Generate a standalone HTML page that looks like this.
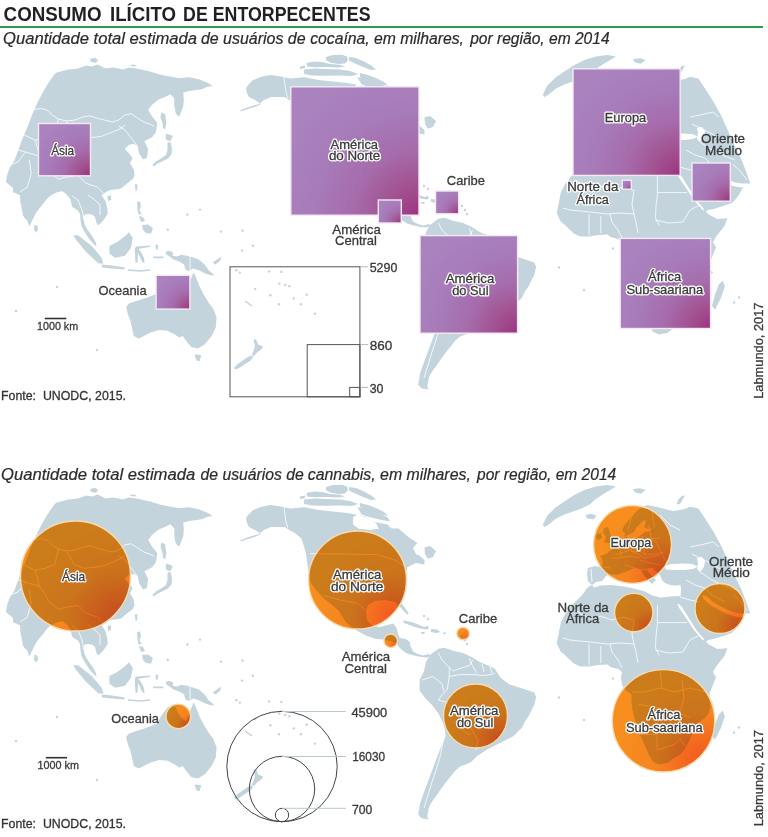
<!DOCTYPE html>
<html><head><meta charset="utf-8"><style>
html,body{margin:0;padding:0;background:#fff;width:768px;height:837px;overflow:hidden}
svg{position:absolute;left:0;top:0;display:block}
text{font-family:"Liberation Sans",sans-serif;white-space:pre}
.halo{stroke:#fff;stroke-width:3px;stroke-linejoin:round}
.mul{mix-blend-mode:multiply}
</style></head><body>
<div style="position:absolute;left:0;top:25.9px;width:762.7px;height:2.1px;background:#2e9b4f"></div>
<svg width="768" height="837" viewBox="0 0 768 837">
<defs>
<radialGradient id="pg" cx="1" cy="1" r="1.15" fx="1" fy="1">
<stop offset="0" stop-color="#9c3482"/><stop offset="0.2" stop-color="#a2508f"/><stop offset="0.45" stop-color="#a66cac"/><stop offset="0.72" stop-color="#a77bb9"/><stop offset="1" stop-color="#a982be"/>
</radialGradient>
<radialGradient id="og" cx="0.9" cy="0.9" r="0.85" fx="0.9" fy="0.9">
<stop offset="0" stop-color="#f25520"/><stop offset="0.25" stop-color="#f46a20"/><stop offset="0.55" stop-color="#f6841f"/><stop offset="1" stop-color="#f78e1e"/>
</radialGradient>
<g id="map"><g fill="#c3d4dd"><polygon points="54.5,74.3 56.6,72.5 58.6,71.9 68.4,69.5 78.0,68.6 86.0,65.6 91.8,66.6 97.7,64.6 105.5,68.6 113.3,67.6 123.0,69.5 128.9,67.6 136.7,68.6 150.0,71.5 159.8,74.4 169.5,76.4 179.3,78.3 189.0,77.3 198.8,79.3 208.6,83.2 212.5,86.1 206.6,87.1 202.7,89.0 196.9,90.0 189.0,91.0 183.3,92.4 183.8,100.0 183.3,106.0 181.0,112.0 179.4,116.5 177.0,115.0 175.5,112.5 174.2,104.7 174.2,98.2 170.3,94.3 165.1,96.9 158.6,99.5 152.1,104.7 148.2,110.0 152.1,116.5 157.3,123.0 156.0,132.0 152.1,137.3 146.9,140.0 144.3,141.2 148.2,149.0 146.9,158.1 143.0,159.4 139.0,152.9 137.8,146.4 133.9,143.8 128.6,145.1 124.7,149.0 128.6,152.9 132.6,158.1 130.0,163.3 133.9,169.8 134.5,175.6 132.8,179.0 127.0,183.4 121.0,188.5 117.2,189.3 110.0,190.0 107.4,191.2 103.0,194.0 101.6,195.0 104.0,199.0 105.5,201.0 107.4,208.8 107.7,214.0 104.0,219.5 100.0,224.0 97.9,225.2 96.5,223.0 95.0,217.0 92.0,214.5 88.0,214.0 84.5,214.5 83.5,218.0 84.5,224.0 87.0,229.0 89.5,232.5 93.0,237.5 96.0,243.0 96.5,246.5 93.5,244.0 90.0,240.0 86.5,235.0 83.5,230.0 81.5,226.0 80.5,220.0 80.0,214.0 78.1,210.8 74.0,208.0 72.3,206.9 71.0,202.0 70.3,199.0 66.4,194.2 62.5,191.2 58.0,192.0 54.7,193.2 50.0,196.0 46.9,199.0 43.0,204.0 39.0,208.8 36.0,213.0 33.2,218.6 29.3,226.4 27.0,220.0 24.5,218.0 22.8,215.0 21.5,207.3 20.2,201.5 20.2,195.6 16.3,193.6 13.0,192.3 13.0,187.8 9.8,185.2 5.9,182.0 7.2,174.8 9.8,167.6 14.4,160.4 18.7,149.0 23.0,137.5 27.3,127.4 31.6,116.0 35.9,105.9 41.6,94.4 47.4,84.4"/>
<polygon points="34.5,224.5 37.5,226.0 38.0,230.0 36.0,232.3 34.0,230.0"/>
<polygon points="73.2,235.2 78.1,235.2 91.8,245.9 101.6,257.7 103.5,263.5 98.6,263.5 85.9,251.8 76.2,240.1"/>
<polygon points="101.6,264.5 112.0,265.5 125.0,267.5 124.0,269.5 112.0,268.5 102.0,267.5"/>
<polygon points="109.4,245.9 117.2,242.0 125.0,236.2 128.9,232.3 132.8,238.1 130.9,247.9 125.0,255.7 115.2,257.7 109.4,253.8"/>
<polygon points="136.0,246.5 143.0,246.0 150.0,245.5 150.0,247.0 143.0,248.0 138.5,249.0 141.0,252.0 144.0,258.0 144.5,262.8 142.5,262.5 139.5,256.0 138.0,253.0 137.5,262.8 135.5,262.5 135.0,255.0 134.8,249.0"/>
<polygon points="137.0,202.0 140.0,201.5 141.0,206.0 139.5,210.0 141.5,214.0 138.5,214.5 137.5,209.0"/>
<polygon points="142.0,225.0 148.0,224.6 152.9,228.0 151.0,233.7 146.0,233.0 143.0,230.0"/>
<polygon points="139.0,216.0 143.0,217.0 145.0,221.0 141.0,222.0"/>
<polygon points="135.0,184.0 137.5,184.5 137.0,190.5 135.5,191.0"/>
<polygon points="107.5,196.0 111.0,195.5 111.0,200.0 108.0,201.0"/>
<polygon points="167.5,142.5 170.5,142.0 172.0,148.0 171.6,154.2 168.0,158.5 162.0,161.5 157.0,164.0 153.5,166.5 152.5,164.5 156.0,161.5 161.0,158.5 166.0,155.0 167.5,150.0"/>
<polygon points="166.4,133.4 172.9,136.0 170.3,141.2 166.4,139.9 165.5,136.0"/>
<polygon points="161.2,112.5 165.1,113.9 166.4,123.0 165.1,129.5 163.0,128.0 162.5,123.0 160.5,117.0"/>
<polygon points="165.6,251.8 169.5,250.8 173.4,252.7 172.5,255.7 177.3,256.6 181.2,254.7 187.1,255.7 193.0,257.6 198.8,259.6 204.7,264.5 208.6,270.3 214.5,275.2 210.5,275.2 204.7,273.2 198.8,270.3 193.0,268.4 189.0,271.3 185.2,269.3 184.2,264.5 179.3,261.5 173.4,259.6 169.5,256.6 166.6,254.7"/>
<polygon points="212.5,262.5 218.4,258.6 221.3,256.6 220.3,260.5 215.4,264.5"/>
<polygon points="155.6,244.6 158.3,245.0 157.5,250.0 155.8,249.5"/>
<polygon points="153.0,256.5 163.8,256.5 163.0,258.3 153.5,258.3"/>
<polygon points="90.0,59.0 95.0,57.8 98.0,60.0 96.0,62.7 91.0,62.0"/>
<polygon points="129.0,65.0 134.0,64.6 137.0,66.0 133.0,66.6"/>
<polygon points="126.1,307.1 127.8,313.9 130.3,320.6 132.0,327.4 133.7,335.9 138.8,338.4 143.9,335.9 150.6,332.5 159.1,329.9 167.5,330.8 174.3,334.2 179.4,337.5 182.8,335.9 186.2,340.9 191.2,346.9 198.0,348.5 204.8,344.3 211.6,335.9 215.8,327.4 216.6,317.2 213.2,308.8 208.2,302.0 203.1,293.5 199.7,286.8 197.0,280.0 194.5,274.0 193.5,272.5 192.0,276.0 190.5,280.0 188.5,286.0 186.0,291.0 183.0,289.5 180.0,286.0 177.5,282.0 176.0,277.5 172.0,275.5 168.0,277.0 164.0,282.0 160.0,288.0 156.5,293.7 147.4,297.4 136.5,301.0 129.0,303.5"/>
<polygon points="194.6,354.5 201.4,355.0 199.5,361.2 196.5,360.5"/>
<polygon points="254.5,338.5 257.0,341.0 258.0,344.5 263.0,346.5 262.0,349.0 257.5,352.0 254.0,356.0 251.5,355.0 254.0,350.0 255.0,345.0 253.5,341.0"/>
<polygon points="251.0,355.5 253.5,357.0 250.0,361.0 245.0,364.0 240.0,367.5 236.0,369.5 234.0,368.0 237.0,364.5 242.0,361.0 247.0,357.5"/>
<polygon points="247.0,93.0 246.0,88.0 249.0,84.0 253.0,80.0 260.8,77.1 267.2,75.4 271.2,75.0 283.8,77.1 290.0,78.6 304.3,77.2 318.6,80.0 333.0,81.5 347.3,83.0 355.9,84.4 365.0,86.5 373.3,91.7 387.4,94.4 391.5,98.6 398.6,98.6 408.7,107.2 417.3,113.0 423.0,117.3 418.0,121.0 420.0,126.0 424.5,130.0 424.5,134.5 415.9,133.0 407.3,137.3 405.8,144.5 405.8,158.9 403.0,167.5 401.5,173.2 405.8,179.0 408.7,183.2 407.3,184.7 404.4,181.8 400.0,177.0 395.0,172.0 385.0,170.0 375.0,171.0 368.0,175.0 366.0,182.0 367.0,190.0 372.0,196.0 380.0,197.0 387.2,195.0 393.4,193.4 396.6,198.0 398.0,204.0 400.0,208.0 405.0,208.8 409.5,211.5 410.5,216.0 413.0,221.5 418.0,224.0 423.0,225.5 429.4,224.0 430.0,226.5 426.0,227.5 420.0,226.8 414.0,225.5 407.0,223.5 402.5,220.5 399.0,217.0 396.0,213.0 390.0,211.0 384.0,209.5 376.0,209.0 367.0,206.0 357.5,201.0 350.0,196.0 345.0,191.0 339.0,181.0 331.0,174.0 324.5,169.0 316.0,160.3 311.0,153.0 309.0,145.0 307.5,135.0 305.9,123.0 303.5,115.0 301.6,108.8 296.2,104.0 290.0,100.5 284.8,97.0 271.0,97.0 264.0,100.0 259.0,104.0 252.0,106.0 246.0,108.0 240.0,110.5 241.0,111.5 248.0,109.0 256.0,106.5 261.0,104.0 255.0,100.0 249.0,97.0"/>
<polygon points="424.5,117.3 430.0,116.0 436.0,121.0 433.0,127.0 428.0,128.7 425.0,124.0"/>
<polygon points="326.0,57.0 333.0,55.0 342.0,54.8 347.0,56.5 348.0,60.0 345.0,63.5 338.0,64.0 330.0,62.5 326.0,60.0"/>
<polygon points="349.0,57.0 356.0,58.0 364.0,61.5 372.0,66.0 376.0,69.5 371.0,70.0 362.0,66.5 354.0,63.0 349.0,60.5"/>
<polygon points="306.5,63.0 314.0,61.5 322.0,62.0 330.0,64.0 340.0,64.8 345.0,66.5 338.0,67.5 325.0,67.0 314.0,67.3 307.0,66.5"/>
<polygon points="304.0,69.5 315.0,68.5 328.0,69.0 340.0,69.5 350.0,71.0 358.0,74.0 352.0,76.0 340.0,75.5 326.0,75.8 312.0,75.5 304.0,74.0"/>
<polygon points="360.0,73.0 368.0,75.0 376.0,78.0 384.0,82.0 388.0,85.8 378.0,84.0 368.0,80.0 360.0,77.0"/>
<polygon points="300.0,66.5 305.0,65.5 305.0,68.0 300.0,69.0"/>
<polygon points="357.3,77.2 370.2,78.6 378.8,83.0 387.4,87.2 390.3,91.5 381.7,90.1 370.2,87.2 361.6,84.4"/>
<polygon points="542.9,94.4 547.2,85.8 555.8,77.2 564.4,71.5 573.0,65.8 584.4,60.0 595.9,56.4 607.3,55.0 616.0,56.4 610.2,60.0 603.0,64.3 594.5,70.0 590.2,74.3 581.6,78.6 573.0,81.5 564.4,84.4 555.8,88.7 548.6,94.4 544.3,97.3"/>
<polygon points="585.5,85.0 591.0,83.7 596.5,85.5 594.0,89.2 587.0,88.5"/>
<polygon points="633.0,59.0 640.0,58.2 645.7,60.0 641.0,63.7 635.0,62.5"/>
<polygon points="676.7,74.6 678.0,70.0 682.0,66.0 685.0,65.5 683.0,69.0 680.0,74.0"/>
<polygon points="604.0,98.0 608.0,97.0 610.0,103.0 612.0,108.0 613.0,112.0 608.0,113.0 604.0,112.0 606.0,107.0 603.0,103.0"/>
<polygon points="597.0,104.0 601.0,103.0 602.0,108.0 598.0,110.0 596.0,107.0"/>
<polygon points="592.0,155.0 588.0,151.0 587.0,144.0 588.0,138.0 595.0,136.0 600.0,137.0 603.0,134.0 602.0,129.0 600.0,126.0 606.0,124.0 610.0,121.0 614.0,118.0 618.0,114.0 622.0,112.0 624.0,108.0 625.0,103.0 622.0,101.0 624.0,96.0 628.0,91.0 632.0,86.0 637.0,81.0 642.0,77.0 648.0,75.0 649.3,75.5 658.4,77.3 665.7,79.2 673.0,81.0 684.0,79.2 690.0,76.7 698.4,78.4 705.0,88.4 713.5,101.8 721.8,116.9 728.5,132.0 735.2,147.0 741.9,160.4 746.9,173.8 750.3,183.8 744.0,187.0 742.0,189.0 739.0,195.0 734.0,201.0 731.7,203.1 723.1,206.0 714.5,208.8 707.3,210.3 706.0,212.0 708.8,214.6 717.4,218.9 727.4,218.2 724.5,226.0 717.4,234.7 713.0,242.0 716.0,247.2 713.2,254.3 710.3,261.5 708.9,268.6 710.3,275.8 708.9,283.0 705.0,288.0 701.7,290.0 696.0,294.4 693.0,301.6 690.2,308.8 686.0,317.4 680.2,324.5 673.0,328.8 667.3,333.1 658.7,334.6 653.0,331.7 648.7,324.5 644.4,314.5 640.0,304.5 636.5,294.4 633.0,283.0 631.5,273.0 631.5,264.4 627.0,261.0 623.8,258.3 622.0,254.6 621.0,247.3 622.0,241.9 618.3,239.1 611.0,237.3 607.3,234.6 598.2,235.0 589.1,236.4 580.0,236.4 574.0,233.5 569.0,229.0 565.0,225.0 560.8,221.7 556.7,213.3 558.8,203.0 560.8,192.5 565.0,184.2 573.3,173.8 581.7,165.4 588.0,157.0"/>
<polygon points="612.0,247.5 614.0,247.5 614.0,249.5 612.0,249.5"/>
<polygon points="722.8,280.5 724.8,286.4 720.9,298.0 715.0,309.8 712.0,306.0 715.0,294.2 718.9,284.5"/>
<polygon points="430.0,225.0 438.3,218.8 444.6,217.7 452.9,220.8 463.3,222.9 471.7,227.0 480.0,232.3 488.3,235.4 494.6,238.5 500.8,247.9 509.2,254.2 521.7,258.3 534.2,262.5 536.2,266.7 534.2,275.0 527.9,287.5 525.8,290.0 521.7,297.9 518.5,300.9 513.3,306.2 509.4,308.2 498.4,313.7 487.5,319.2 476.6,326.5 471.1,332.0 467.0,334.0 460.0,336.4 455.0,341.0 451.0,346.0 445.6,352.8 441.0,359.0 436.5,365.6 432.5,371.0 429.2,376.5 428.0,382.0 427.3,387.5 429.2,389.3 421.9,388.4 418.2,384.8 420.0,373.9 423.7,362.9 429.2,348.3 434.6,333.8 440.1,319.2 442.0,315.0 445.6,306.0 445.0,300.0 442.5,291.7 438.3,283.3 432.0,275.0 425.8,268.8 419.6,260.4 419.6,250.0 423.8,241.7 426.0,232.0"/>
<polygon points="403.0,190.3 413.8,192.7 423.0,196.6 429.4,198.0 427.0,199.5 420.0,198.5 412.0,196.0 404.0,193.0"/>
<polygon points="431.0,199.0 437.0,199.5 440.2,201.9 436.0,203.0 431.0,202.0"/>
<polygon points="421.0,202.0 425.0,202.0 424.0,204.0 421.0,203.5"/>
<polygon points="443.0,202.5 446.0,202.5 446.0,204.0 443.0,204.0"/><circle cx="187.4" cy="214.5" r="1.2"/><circle cx="200" cy="209.6" r="1.2"/><circle cx="167.8" cy="229.7" r="1.2"/><circle cx="221" cy="231.6" r="1.2"/><circle cx="242.5" cy="230.5" r="1.2"/><circle cx="252.8" cy="245.7" r="1.2"/><circle cx="242" cy="250.6" r="1.2"/><circle cx="236.4" cy="270.2" r="1.2"/><circle cx="239.9" cy="272.6" r="1.2"/><circle cx="269.2" cy="271.4" r="1.2"/><circle cx="281.4" cy="271.9" r="1.2"/><circle cx="255.2" cy="289" r="1.2"/><circle cx="279.3" cy="283.6" r="1.2"/><circle cx="285.2" cy="285" r="1.2"/><circle cx="289.4" cy="286.2" r="1.2"/><circle cx="270.4" cy="295.3" r="1.2"/><circle cx="293.8" cy="298.4" r="1.2"/><circle cx="306.7" cy="294.8" r="1.2"/><circle cx="300.9" cy="304.2" r="1.2"/><circle cx="279" cy="304.2" r="1.2"/><circle cx="314.9" cy="313.6" r="1.2"/><circle cx="559" cy="267.5" r="1.2"/><circle cx="584" cy="290" r="1.2"/><circle cx="711.5" cy="272.5" r="1.2"/><circle cx="734" cy="302.5" r="1.2"/><circle cx="739" cy="297.5" r="1.2"/><circle cx="427" cy="197" r="1.2"/><circle cx="424" cy="186" r="1.2"/><circle cx="428" cy="189" r="1.2"/><circle cx="462" cy="206" r="1.2"/><circle cx="465" cy="210" r="1.2"/><circle cx="467" cy="214" r="1.2"/><circle cx="57" cy="287" r="1.2"/><circle cx="16" cy="311" r="1.2"/><circle cx="97" cy="350" r="1.2"/></g><g fill="none" stroke="#c3d4dd" stroke-width="1.5"><polyline points="245.0,301.0 252.0,306.0"/><polyline points="150.0,270.0 140.0,271.0 128.0,270.0"/></g><g fill="#fff"><polygon points="353.0,87.2 357.3,84.4 365.9,87.2 376.0,93.0 378.8,98.7 370.2,100.0 358.7,98.7 353.0,94.4"/>
<polygon points="417.3,113.0 423.0,117.3 418.0,121.0 420.0,126.0 416.0,124.0 413.0,118.0"/>
<polygon points="626.0,106.0 630.0,104.0 634.0,102.0 636.0,98.0 640.0,94.0 644.0,90.0 646.0,92.0 644.0,97.0 648.0,99.0 652.0,98.0 650.0,101.0 645.0,102.0 641.0,105.0 637.0,108.0 632.0,109.0 628.0,108.0"/>
<polygon points="592.0,155.0 596.0,152.0 602.0,151.0 606.0,146.0 610.0,144.0 616.0,145.0 622.0,143.0 628.0,141.0 634.0,138.0 640.0,139.0 643.0,144.0 648.0,150.0 652.0,154.0 656.0,150.0 651.0,145.0 647.0,140.0 650.0,138.0 656.0,141.0 660.0,145.0 662.0,150.0 665.0,153.0 670.0,155.0 675.0,155.5 680.5,155.0 681.0,160.0 680.5,166.0 670.0,166.5 660.8,167.5 652.5,165.4 644.2,161.2 631.7,158.0 623.3,156.5 611.0,155.0 601.0,155.5 594.2,157.5"/>
<polygon points="664.0,136.0 672.0,134.0 682.0,133.5 692.0,134.0 698.0,136.5 693.0,139.0 684.0,140.0 674.0,140.0 666.0,139.5"/>
<polygon points="697.0,128.0 702.0,127.0 705.0,131.0 704.0,137.0 700.0,142.0 697.0,139.0 698.0,133.0"/>
<polygon points="679.0,174.0 682.0,177.0 690.0,190.0 697.0,201.0 703.0,207.4 704.5,211.0 701.5,209.0 694.0,200.0 686.0,188.0 678.5,177.0 677.5,174.0"/>
<polygon points="702.0,165.0 706.0,166.0 713.0,172.0 720.0,176.0 728.0,180.0 735.0,182.5 742.0,183.5 753.0,183.5 754.0,187.5 742.0,187.5 735.0,186.5 727.0,184.0 719.0,180.0 711.0,175.5 704.0,169.5"/></g><g fill="none" stroke="#fff" stroke-width="0.8" stroke-linejoin="round"><polyline points="33.3,109.6 41.7,108.5 47.9,110.6 52.0,114.8 58.3,119.0 66.7,121.0 75.0,120.0 83.3,116.9 89.6,115.8 95.8,117.9 104.2,120.0 112.5,122.0 118.8,120.0 125.0,114.8 131.2,113.8 137.5,117.9 143.8,122.0 150.0,124.2 154.2,126.2"/><polyline points="66.4,120.8 74.2,134.5 84.0,138.4 101.6,136.4 121.0,128.6 125.0,125.0"/><polyline points="14.0,133.0 23.4,134.5 35.2,140.3 45.0,138.4 54.7,134.5 58.3,119.0"/><polyline points="18.0,150.0 25.4,152.0 39.0,156.0 45.0,163.8 48.8,171.6 58.6,179.4 64.5,177.4 78.0,175.5 86.0,183.3 97.7,187.2 103.0,193.0"/><polyline points="29.3,159.8 31.2,173.5 27.3,187.2 20.0,192.0"/><polyline points="10.0,165.0 18.0,162.0 25.4,152.0"/><polyline points="35.2,140.3 38.0,150.0 39.0,156.0"/><polyline points="72.0,196.0 78.0,200.0 82.0,210.0 84.0,220.0"/><polyline points="733.0,164.3 740.0,171.0 747.2,180.0"/><polyline points="190.0,255.5 190.0,271.0"/><polyline points="88.0,195.0 95.0,200.0 100.0,205.0 100.0,215.0"/><polyline points="118.8,126.0 125.0,130.0 137.8,146.4"/><polyline points="284.0,77.0 285.0,85.0 286.0,92.0 288.0,98.0"/><polyline points="310.0,123.7 340.0,124.0 377.5,124.6 385.0,127.0 395.0,130.0 405.0,137.0"/><polyline points="323.4,165.6 340.0,170.0 357.3,173.4 367.7,181.2"/><polyline points="438.3,222.8 442.0,230.0 449.2,237.3 452.9,241.0 458.3,239.2 469.3,235.5 472.9,230.0"/><polyline points="469.3,228.2 472.0,235.0 476.6,242.8"/><polyline points="482.0,234.0 484.0,242.0"/><polyline points="490.0,236.0 492.0,243.0"/><polyline points="449.2,246.5 460.2,244.6 472.9,244.6 483.8,245.5 494.8,243.7"/><polyline points="421.9,250.1 432.8,246.5 442.0,253.7 443.7,261.0"/><polyline points="449.2,237.3 449.2,246.5 447.4,259.2 442.0,264.7 438.3,270.2 445.6,272.0 452.0,278.0 460.0,283.0"/><polyline points="443.7,300.0 443.7,308.4 440.1,326.7 436.0,340.0 432.0,352.0 428.0,365.0 424.0,378.0"/><polyline points="460.0,283.0 468.0,290.0 472.0,300.0 478.0,310.0 476.0,320.0"/><polyline points="455.0,292.0 462.0,300.0 470.0,305.0"/><polyline points="657.4,175.0 657.4,194.5"/><polyline points="657.4,192.6 687.0,192.6"/><polyline points="600.0,186.0 612.0,190.0 624.0,187.0 634.0,190.6"/><polyline points="634.0,190.6 632.0,204.3 634.0,214.0 636.0,222.0 638.0,233.0"/><polyline points="657.4,194.5 656.0,206.0 655.5,218.0 659.4,225.8"/><polyline points="563.0,208.0 570.0,210.0 590.0,212.0 606.6,214.0 620.0,213.0 634.0,214.0"/><polyline points="589.0,214.0 589.0,235.0"/><polyline points="600.8,216.0 600.8,233.0"/><polyline points="655.5,220.0 668.0,223.0 682.8,222.0"/><polyline points="575.0,180.0 585.0,186.0 595.0,190.0 600.0,186.0"/><polyline points="682.8,222.0 690.0,210.0 700.0,205.0"/><polyline points="610.0,214.0 612.0,222.0 618.0,230.0 622.0,238.0"/><polyline points="690.0,117.0 700.0,115.0 713.0,112.0 719.0,117.0"/><polyline points="692.0,124.0 700.0,128.0 712.0,134.0 722.0,140.0"/><polyline points="700.0,142.0 712.0,150.0 725.0,156.0 735.0,160.0"/><polyline points="686.0,150.0 695.0,155.0 705.0,158.0 712.0,165.0 725.0,172.0"/><polyline points="680.0,167.0 690.0,170.0 700.0,172.0"/><polyline points="640.0,304.5 657.0,304.5 657.0,320.0"/><polyline points="657.0,320.0 674.5,314.5 680.0,308.8 686.0,317.0"/><polyline points="657.3,294.4 676.0,294.4 684.0,300.0"/><polyline points="638.7,274.4 657.3,277.2 660.0,287.3 672.0,290.0 678.8,283.0 690.0,287.3"/><polyline points="632.0,262.0 645.0,262.0 660.0,258.0 675.0,262.0 690.0,258.0 705.0,262.0"/><polyline points="660.0,240.0 662.0,258.0"/><polyline points="682.0,250.0 684.0,268.0 680.0,283.0"/><polyline points="618.0,112.0 620.0,120.0 622.0,128.0"/><polyline points="630.0,108.0 631.0,115.0 632.0,122.0"/><polyline points="642.0,106.0 643.0,115.0 645.0,125.0"/><polyline points="612.0,128.0 620.0,128.0 630.0,126.0 640.0,128.0"/><polyline points="640.0,130.0 650.0,133.0 660.0,135.0"/><polyline points="648.0,95.0 650.0,102.0 652.0,110.0"/><polyline points="655.0,110.0 660.0,120.0 665.0,130.0"/><polyline points="652.0,80.0 653.0,90.0 655.0,98.0"/><polyline points="633.0,83.0 630.0,92.0 628.0,100.0"/><polyline points="591.0,139.0 591.5,146.0 592.0,152.0"/><polyline points="600.0,136.0 605.0,137.0 610.0,138.0"/><polyline points="645.0,125.0 655.0,124.0 665.0,122.0"/><polyline points="632.0,122.0 640.0,121.0 645.0,125.0"/><polyline points="620.0,105.0 640.0,110.0 660.0,108.0"/><polyline points="615.0,125.0 630.0,120.0 645.0,128.0 660.0,125.0"/><polyline points="625.0,135.0 640.0,140.0 655.0,138.0"/><polyline points="660.0,85.0 670.0,95.0 680.0,100.0"/></g></g>
</defs>
<use href="#map"/>
<use href="#map" y="430"/>
<rect x="38.5" y="123.5" width="52.0" height="52.30000000000001" fill="url(#pg)" stroke="#f6e8f6" stroke-width="1.4"/>
<rect x="290.8" y="86.8" width="128.2" height="128.39999999999998" fill="url(#pg)" stroke="#f6e8f6" stroke-width="1.4"/>
<rect x="378.3" y="200" width="23.0" height="23" fill="url(#pg)" stroke="#f6e8f6" stroke-width="1.4"/>
<rect x="435.5" y="191" width="23.19999999999999" height="22.80000000000001" fill="url(#pg)" stroke="#f6e8f6" stroke-width="1.4"/>
<rect x="420" y="235.6" width="97.60000000000002" height="97.6" fill="url(#pg)" stroke="#f6e8f6" stroke-width="1.4"/>
<rect x="573" y="68.8" width="107.20000000000005" height="106.60000000000001" fill="url(#pg)" stroke="#f6e8f6" stroke-width="1.4"/>
<rect x="622.3" y="180.2" width="9.0" height="9.0" fill="url(#pg)" stroke="#f6e8f6" stroke-width="1.4"/>
<rect x="692" y="163" width="38.299999999999955" height="38.19999999999999" fill="url(#pg)" stroke="#f6e8f6" stroke-width="1.4"/>
<rect x="620.2" y="238.4" width="90.39999999999998" height="90.1" fill="url(#pg)" stroke="#f6e8f6" stroke-width="1.4"/>
<rect x="156.1" y="275.3" width="33.80000000000001" height="33.80000000000001" fill="url(#pg)" stroke="#f6e8f6" stroke-width="1.4"/>
<circle cx="75.5" cy="576" r="55" fill="url(#og)" class="mul"/><circle cx="75.5" cy="576" r="55" fill="url(#og)" opacity="0.25"/><circle cx="75.5" cy="576" r="55" fill="none" stroke="#f8dcb0" stroke-width="1.4"/>
<circle cx="357.5" cy="580" r="49" fill="url(#og)" class="mul"/><circle cx="357.5" cy="580" r="49" fill="url(#og)" opacity="0.25"/><circle cx="357.5" cy="580" r="49" fill="none" stroke="#f8dcb0" stroke-width="1.4"/>
<circle cx="390.7" cy="640.8" r="6.8" fill="url(#og)" class="mul"/><circle cx="390.7" cy="640.8" r="6.8" fill="url(#og)" opacity="0.25"/><circle cx="390.7" cy="640.8" r="6.8" fill="none" stroke="#f8dcb0" stroke-width="1.4"/>
<circle cx="463.1" cy="633.5" r="6.3" fill="url(#og)" class="mul"/><circle cx="463.1" cy="633.5" r="6.3" fill="url(#og)" opacity="0.25"/><circle cx="463.1" cy="633.5" r="6.3" fill="none" stroke="#f8dcb0" stroke-width="1.4"/>
<circle cx="475.5" cy="716" r="32" fill="url(#og)" class="mul"/><circle cx="475.5" cy="716" r="32" fill="url(#og)" opacity="0.25"/><circle cx="475.5" cy="716" r="32" fill="none" stroke="#f8dcb0" stroke-width="1.4"/>
<circle cx="632.5" cy="544.5" r="39" fill="url(#og)" class="mul"/><circle cx="632.5" cy="544.5" r="39" fill="url(#og)" opacity="0.25"/><circle cx="632.5" cy="544.5" r="39" fill="none" stroke="#f8dcb0" stroke-width="1.4"/>
<circle cx="633.75" cy="612.6" r="19.2" fill="url(#og)" class="mul"/><circle cx="633.75" cy="612.6" r="19.2" fill="url(#og)" opacity="0.25"/><circle cx="633.75" cy="612.6" r="19.2" fill="none" stroke="#f8dcb0" stroke-width="1.4"/>
<circle cx="720" cy="608.5" r="25" fill="url(#og)" class="mul"/><circle cx="720" cy="608.5" r="25" fill="url(#og)" opacity="0.25"/><circle cx="720" cy="608.5" r="25" fill="none" stroke="#f8dcb0" stroke-width="1.4"/>
<circle cx="663.5" cy="720.8" r="51.2" fill="url(#og)" class="mul"/><circle cx="663.5" cy="720.8" r="51.2" fill="url(#og)" opacity="0.25"/><circle cx="663.5" cy="720.8" r="51.2" fill="none" stroke="#f8dcb0" stroke-width="1.4"/>
<circle cx="178.3" cy="716.4" r="12.3" fill="url(#og)" class="mul"/><circle cx="178.3" cy="716.4" r="12.3" fill="url(#og)" opacity="0.25"/><circle cx="178.3" cy="716.4" r="12.3" fill="none" stroke="#f8dcb0" stroke-width="1.4"/>
<g fill="none" stroke="#555" stroke-width="1">
<rect x="230" y="266.8" width="129.9" height="130"/>
<rect x="307.2" y="344.6" width="52.7" height="52.2"/>
<rect x="349.7" y="387.4" width="10.2" height="9.4"/>
</g>
<g stroke="#9aa" stroke-width="0.8"><line x1="360" y1="266.8" x2="368" y2="266.8"/><line x1="360" y1="344.6" x2="368" y2="344.6"/><line x1="360" y1="387.4" x2="368" y2="387.4"/></g>
<g fill="none" stroke="#444" stroke-width="1"><circle cx="282" cy="766.5" r="55.2"/><circle cx="282" cy="789" r="32.7"/><circle cx="282" cy="815" r="6.7"/></g>
<g stroke="#b9c9d3" stroke-width="1"><line x1="282" y1="711.5" x2="346" y2="711.5"/><line x1="282" y1="756.5" x2="346" y2="756.5"/><line x1="282" y1="808.3" x2="346" y2="808.3"/></g>
<text x="3.6" y="21.4" font-size="19.6" font-weight="bold" font-style="normal" text-anchor="start" textLength="97.9" lengthAdjust="spacingAndGlyphs" fill="#231f20">CONSUMO</text>
<text x="110" y="21.4" font-size="19.6" font-weight="bold" font-style="normal" text-anchor="start" textLength="66" lengthAdjust="spacingAndGlyphs" fill="#231f20">ILÍCITO</text>
<text x="183.1" y="21.4" font-size="19.6" font-weight="bold" font-style="normal" text-anchor="start" textLength="187.4" lengthAdjust="spacingAndGlyphs" fill="#231f20">DE ENTORPECENTES</text>
<text x="3.1" y="44.3" font-size="16" font-weight="normal" font-style="italic" text-anchor="start" textLength="193.9" lengthAdjust="spacingAndGlyphs" fill="#2b2b2b" stroke="#2b2b2b" stroke-width="0.2">Quantidade total estimada</text>
<text x="200.9" y="44.3" font-size="16" font-weight="normal" font-style="italic" text-anchor="start" textLength="104.7" lengthAdjust="spacingAndGlyphs" fill="#2b2b2b" stroke="#2b2b2b" stroke-width="0.2">de usuários de</text>
<text x="310.2" y="44.3" font-size="16" font-weight="normal" font-style="italic" text-anchor="start" textLength="153.7" lengthAdjust="spacingAndGlyphs" fill="#2b2b2b" stroke="#2b2b2b" stroke-width="0.2">cocaína, em milhares,</text>
<text x="470.2" y="44.3" font-size="16" font-weight="normal" font-style="italic" text-anchor="start" textLength="139.4" lengthAdjust="spacingAndGlyphs" fill="#2b2b2b" stroke="#2b2b2b" stroke-width="0.2">por região, em 2014</text>
<text x="1.0" y="480.3" font-size="16" font-weight="normal" font-style="italic" text-anchor="start" textLength="194.2" lengthAdjust="spacingAndGlyphs" fill="#2b2b2b" stroke="#2b2b2b" stroke-width="0.2">Quantidade total estimada</text>
<text x="200.6" y="480.3" font-size="16" font-weight="normal" font-style="italic" text-anchor="start" textLength="103.2" lengthAdjust="spacingAndGlyphs" fill="#2b2b2b" stroke="#2b2b2b" stroke-width="0.2">de usuários de</text>
<text x="307.8" y="480.3" font-size="16" font-weight="normal" font-style="italic" text-anchor="start" textLength="163.0" lengthAdjust="spacingAndGlyphs" fill="#2b2b2b" stroke="#2b2b2b" stroke-width="0.2">cannabis, em milhares,</text>
<text x="477.0" y="480.3" font-size="16" font-weight="normal" font-style="italic" text-anchor="start" textLength="139.2" lengthAdjust="spacingAndGlyphs" fill="#2b2b2b" stroke="#2b2b2b" stroke-width="0.2">por região, em 2014</text>
<text x="62.7" y="154.6" font-size="13.1" font-weight="normal" font-style="normal" text-anchor="middle" textLength="23" lengthAdjust="spacingAndGlyphs" fill="#fff" class="halo">Ásia</text><text x="62.7" y="154.6" font-size="13.1" font-weight="normal" font-style="normal" text-anchor="middle" textLength="23" lengthAdjust="spacingAndGlyphs" fill="#3a3a3a" stroke="#3a3a3a" stroke-width="0.3">Ásia</text>
<text x="354.3" y="148.5" font-size="13.1" font-weight="normal" font-style="normal" text-anchor="middle" textLength="47.6" lengthAdjust="spacingAndGlyphs" fill="#fff" class="halo">América</text><text x="354.3" y="148.5" font-size="13.1" font-weight="normal" font-style="normal" text-anchor="middle" textLength="47.6" lengthAdjust="spacingAndGlyphs" fill="#3a3a3a" stroke="#3a3a3a" stroke-width="0.3">América</text>
<text x="354.5" y="159.8" font-size="13.1" font-weight="normal" font-style="normal" text-anchor="middle" textLength="51.2" lengthAdjust="spacingAndGlyphs" fill="#fff" class="halo">do Norte</text><text x="354.5" y="159.8" font-size="13.1" font-weight="normal" font-style="normal" text-anchor="middle" textLength="51.2" lengthAdjust="spacingAndGlyphs" fill="#3a3a3a" stroke="#3a3a3a" stroke-width="0.3">do Norte</text>
<text x="356.6" y="233.7" font-size="13.1" font-weight="normal" font-style="normal" text-anchor="middle" textLength="48.5" lengthAdjust="spacingAndGlyphs" fill="#3a3a3a" stroke="#3a3a3a" stroke-width="0.3">América</text>
<text x="356.0" y="245.4" font-size="13.1" font-weight="normal" font-style="normal" text-anchor="middle" textLength="41.8" lengthAdjust="spacingAndGlyphs" fill="#3a3a3a" stroke="#3a3a3a" stroke-width="0.3">Central</text>
<text x="465.85" y="184.5" font-size="13.1" font-weight="normal" font-style="normal" text-anchor="middle" textLength="38.1" lengthAdjust="spacingAndGlyphs" fill="#3a3a3a" stroke="#3a3a3a" stroke-width="0.3">Caribe</text>
<text x="470.0" y="283.0" font-size="13.1" font-weight="normal" font-style="normal" text-anchor="middle" textLength="48.6" lengthAdjust="spacingAndGlyphs" fill="#fff" class="halo">América</text><text x="470.0" y="283.0" font-size="13.1" font-weight="normal" font-style="normal" text-anchor="middle" textLength="48.6" lengthAdjust="spacingAndGlyphs" fill="#3a3a3a" stroke="#3a3a3a" stroke-width="0.3">América</text>
<text x="470.4" y="295.1" font-size="13.1" font-weight="normal" font-style="normal" text-anchor="middle" textLength="36.4" lengthAdjust="spacingAndGlyphs" fill="#fff" class="halo">do Sul</text><text x="470.4" y="295.1" font-size="13.1" font-weight="normal" font-style="normal" text-anchor="middle" textLength="36.4" lengthAdjust="spacingAndGlyphs" fill="#3a3a3a" stroke="#3a3a3a" stroke-width="0.3">do Sul</text>
<text x="625.5" y="122.2" font-size="13.1" font-weight="normal" font-style="normal" text-anchor="middle" textLength="41.4" lengthAdjust="spacingAndGlyphs" fill="#fff" class="halo">Europa</text><text x="625.5" y="122.2" font-size="13.1" font-weight="normal" font-style="normal" text-anchor="middle" textLength="41.4" lengthAdjust="spacingAndGlyphs" fill="#3a3a3a" stroke="#3a3a3a" stroke-width="0.3">Europa</text>
<text x="592.8" y="191.2" font-size="13.1" font-weight="normal" font-style="normal" text-anchor="middle" textLength="51.2" lengthAdjust="spacingAndGlyphs" fill="#fff" class="halo">Norte da</text><text x="592.8" y="191.2" font-size="13.1" font-weight="normal" font-style="normal" text-anchor="middle" textLength="51.2" lengthAdjust="spacingAndGlyphs" fill="#3a3a3a" stroke="#3a3a3a" stroke-width="0.3">Norte da</text>
<text x="592.6" y="203.5" font-size="13.1" font-weight="normal" font-style="normal" text-anchor="middle" textLength="32.2" lengthAdjust="spacingAndGlyphs" fill="#fff" class="halo">África</text><text x="592.6" y="203.5" font-size="13.1" font-weight="normal" font-style="normal" text-anchor="middle" textLength="32.2" lengthAdjust="spacingAndGlyphs" fill="#3a3a3a" stroke="#3a3a3a" stroke-width="0.3">África</text>
<text x="723.1" y="143.3" font-size="13.1" font-weight="normal" font-style="normal" text-anchor="middle" textLength="44" lengthAdjust="spacingAndGlyphs" fill="#3a3a3a" stroke="#3a3a3a" stroke-width="0.3">Oriente</text>
<text x="723.5" y="154.7" font-size="13.1" font-weight="normal" font-style="normal" text-anchor="middle" textLength="36.9" lengthAdjust="spacingAndGlyphs" fill="#3a3a3a" stroke="#3a3a3a" stroke-width="0.3">Médio</text>
<text x="664.6" y="281.4" font-size="13.1" font-weight="normal" font-style="normal" text-anchor="middle" textLength="33" lengthAdjust="spacingAndGlyphs" fill="#fff" class="halo">África</text><text x="664.6" y="281.4" font-size="13.1" font-weight="normal" font-style="normal" text-anchor="middle" textLength="33" lengthAdjust="spacingAndGlyphs" fill="#3a3a3a" stroke="#3a3a3a" stroke-width="0.3">África</text>
<text x="664.8" y="293.7" font-size="13.1" font-weight="normal" font-style="normal" text-anchor="middle" textLength="76.8" lengthAdjust="spacingAndGlyphs" fill="#fff" class="halo">Sub-saariana</text><text x="664.8" y="293.7" font-size="13.1" font-weight="normal" font-style="normal" text-anchor="middle" textLength="76.8" lengthAdjust="spacingAndGlyphs" fill="#3a3a3a" stroke="#3a3a3a" stroke-width="0.3">Sub-saariana</text>
<text x="98.6" y="295.1" font-size="13.1" font-weight="normal" font-style="normal" text-anchor="start" textLength="48" lengthAdjust="spacingAndGlyphs" fill="#3a3a3a" stroke="#3a3a3a" stroke-width="0.3">Oceania</text>
<text x="37.1" y="330" font-size="11" font-weight="normal" font-style="normal" text-anchor="start" textLength="41" lengthAdjust="spacingAndGlyphs" fill="#3a3a3a" stroke="#3a3a3a" stroke-width="0.3">1000 km</text>
<rect x="44.8" y="317.7" width="21.5" height="1.6" fill="#333"/>
<text x="1" y="400.4" font-size="13.1" font-weight="normal" font-style="normal" text-anchor="start" textLength="125" lengthAdjust="spacingAndGlyphs" fill="#333" stroke="#333" stroke-width="0.3">Fonte:  UNODC, 2015.</text>
<text x="369.7" y="272.3" font-size="12" font-weight="normal" font-style="normal" text-anchor="start" textLength="27.7" lengthAdjust="spacingAndGlyphs" fill="#3a3a3a" stroke="#3a3a3a" stroke-width="0.3">5290</text>
<text x="369.7" y="349.5" font-size="12" font-weight="normal" font-style="normal" text-anchor="start" textLength="22.5" lengthAdjust="spacingAndGlyphs" fill="#3a3a3a" stroke="#3a3a3a" stroke-width="0.3">860</text>
<text x="369.7" y="393.3" font-size="12" font-weight="normal" font-style="normal" text-anchor="start" textLength="13.8" lengthAdjust="spacingAndGlyphs" fill="#3a3a3a" stroke="#3a3a3a" stroke-width="0.3">30</text>
<text x="0" y="0" font-size="13.1" font-weight="normal" font-style="normal" text-anchor="start" textLength="96.3" lengthAdjust="spacingAndGlyphs" transform="translate(763.2,398.8) rotate(-90)" fill="#3a3a3a" stroke="#3a3a3a" stroke-width="0.3">Labmundo, 2017</text>
<text x="73.6" y="580.9" font-size="13.1" font-weight="normal" font-style="normal" text-anchor="middle" textLength="23.2" lengthAdjust="spacingAndGlyphs" fill="#fff" class="halo">Ásia</text><text x="73.6" y="580.9" font-size="13.1" font-weight="normal" font-style="normal" text-anchor="middle" textLength="23.2" lengthAdjust="spacingAndGlyphs" fill="#3a3a3a" stroke="#3a3a3a" stroke-width="0.3">Ásia</text>
<text x="357.2" y="579.1" font-size="13.1" font-weight="normal" font-style="normal" text-anchor="middle" textLength="48.3" lengthAdjust="spacingAndGlyphs" fill="#fff" class="halo">América</text><text x="357.2" y="579.1" font-size="13.1" font-weight="normal" font-style="normal" text-anchor="middle" textLength="48.3" lengthAdjust="spacingAndGlyphs" fill="#3a3a3a" stroke="#3a3a3a" stroke-width="0.3">América</text>
<text x="357.2" y="590.9" font-size="13.1" font-weight="normal" font-style="normal" text-anchor="middle" textLength="52.5" lengthAdjust="spacingAndGlyphs" fill="#fff" class="halo">do Norte</text><text x="357.2" y="590.9" font-size="13.1" font-weight="normal" font-style="normal" text-anchor="middle" textLength="52.5" lengthAdjust="spacingAndGlyphs" fill="#3a3a3a" stroke="#3a3a3a" stroke-width="0.3">do Norte</text>
<text x="365.9" y="661.0" font-size="13.1" font-weight="normal" font-style="normal" text-anchor="middle" textLength="48.5" lengthAdjust="spacingAndGlyphs" fill="#3a3a3a" stroke="#3a3a3a" stroke-width="0.3">América</text>
<text x="365.7" y="673.1" font-size="13.1" font-weight="normal" font-style="normal" text-anchor="middle" textLength="42.6" lengthAdjust="spacingAndGlyphs" fill="#3a3a3a" stroke="#3a3a3a" stroke-width="0.3">Central</text>
<text x="478" y="622.6" font-size="13.1" font-weight="normal" font-style="normal" text-anchor="middle" textLength="38.3" lengthAdjust="spacingAndGlyphs" fill="#3a3a3a" stroke="#3a3a3a" stroke-width="0.3">Caribe</text>
<text x="474.2" y="714.6" font-size="13.1" font-weight="normal" font-style="normal" text-anchor="middle" textLength="48.3" lengthAdjust="spacingAndGlyphs" fill="#fff" class="halo">América</text><text x="474.2" y="714.6" font-size="13.1" font-weight="normal" font-style="normal" text-anchor="middle" textLength="48.3" lengthAdjust="spacingAndGlyphs" fill="#3a3a3a" stroke="#3a3a3a" stroke-width="0.3">América</text>
<text x="475.1" y="726.9" font-size="13.1" font-weight="normal" font-style="normal" text-anchor="middle" textLength="36.4" lengthAdjust="spacingAndGlyphs" fill="#fff" class="halo">do Sul</text><text x="475.1" y="726.9" font-size="13.1" font-weight="normal" font-style="normal" text-anchor="middle" textLength="36.4" lengthAdjust="spacingAndGlyphs" fill="#3a3a3a" stroke="#3a3a3a" stroke-width="0.3">do Sul</text>
<text x="630.9" y="546.8" font-size="13.1" font-weight="normal" font-style="normal" text-anchor="middle" textLength="40.7" lengthAdjust="spacingAndGlyphs" fill="#fff" class="halo">Europa</text><text x="630.9" y="546.8" font-size="13.1" font-weight="normal" font-style="normal" text-anchor="middle" textLength="40.7" lengthAdjust="spacingAndGlyphs" fill="#3a3a3a" stroke="#3a3a3a" stroke-width="0.3">Europa</text>
<text x="583.2" y="611.5" font-size="13.1" font-weight="normal" font-style="normal" text-anchor="middle" textLength="51.2" lengthAdjust="spacingAndGlyphs" fill="#3a3a3a" stroke="#3a3a3a" stroke-width="0.3">Norte da</text>
<text x="582.6" y="622.9" font-size="13.1" font-weight="normal" font-style="normal" text-anchor="middle" textLength="33" lengthAdjust="spacingAndGlyphs" fill="#3a3a3a" stroke="#3a3a3a" stroke-width="0.3">África</text>
<text x="731.1" y="565.6" font-size="13.1" font-weight="normal" font-style="normal" text-anchor="middle" textLength="44" lengthAdjust="spacingAndGlyphs" fill="#3a3a3a" stroke="#3a3a3a" stroke-width="0.3">Oriente</text>
<text x="731.3" y="577.1" font-size="13.1" font-weight="normal" font-style="normal" text-anchor="middle" textLength="37.2" lengthAdjust="spacingAndGlyphs" fill="#3a3a3a" stroke="#3a3a3a" stroke-width="0.3">Médio</text>
<text x="664.0" y="719.3" font-size="13.1" font-weight="normal" font-style="normal" text-anchor="middle" textLength="32.9" lengthAdjust="spacingAndGlyphs" fill="#fff" class="halo">África</text><text x="664.0" y="719.3" font-size="13.1" font-weight="normal" font-style="normal" text-anchor="middle" textLength="32.9" lengthAdjust="spacingAndGlyphs" fill="#3a3a3a" stroke="#3a3a3a" stroke-width="0.3">África</text>
<text x="664.3" y="731.6" font-size="13.1" font-weight="normal" font-style="normal" text-anchor="middle" textLength="76.7" lengthAdjust="spacingAndGlyphs" fill="#fff" class="halo">Sub-saariana</text><text x="664.3" y="731.6" font-size="13.1" font-weight="normal" font-style="normal" text-anchor="middle" textLength="76.7" lengthAdjust="spacingAndGlyphs" fill="#3a3a3a" stroke="#3a3a3a" stroke-width="0.3">Sub-saariana</text>
<text x="111.25" y="723" font-size="13.1" font-weight="normal" font-style="normal" text-anchor="start" textLength="47.7" lengthAdjust="spacingAndGlyphs" fill="#3a3a3a" stroke="#3a3a3a" stroke-width="0.3">Oceania</text>
<text x="37.5" y="768.5" font-size="11" font-weight="normal" font-style="normal" text-anchor="start" textLength="41.5" lengthAdjust="spacingAndGlyphs" fill="#3a3a3a" stroke="#3a3a3a" stroke-width="0.3">1000 km</text>
<rect x="45.8" y="756.9" width="21.2" height="1.6" fill="#333"/>
<text x="1" y="827.5" font-size="13.1" font-weight="normal" font-style="normal" text-anchor="start" textLength="125" lengthAdjust="spacingAndGlyphs" fill="#333" stroke="#333" stroke-width="0.3">Fonte:  UNODC, 2015.</text>
<text x="351.4" y="717.3" font-size="12" font-weight="normal" font-style="normal" text-anchor="start" textLength="35.9" lengthAdjust="spacingAndGlyphs" fill="#3a3a3a" stroke="#3a3a3a" stroke-width="0.3">45900</text>
<text x="352.2" y="760.8" font-size="12" font-weight="normal" font-style="normal" text-anchor="start" textLength="32.9" lengthAdjust="spacingAndGlyphs" fill="#3a3a3a" stroke="#3a3a3a" stroke-width="0.3">16030</text>
<text x="351.9" y="813.8" font-size="12" font-weight="normal" font-style="normal" text-anchor="start" textLength="20.3" lengthAdjust="spacingAndGlyphs" fill="#3a3a3a" stroke="#3a3a3a" stroke-width="0.3">700</text>
<text x="0" y="0" font-size="13.1" font-weight="normal" font-style="normal" text-anchor="start" textLength="96.3" lengthAdjust="spacingAndGlyphs" transform="translate(763.2,826.3) rotate(-90)" fill="#3a3a3a" stroke="#3a3a3a" stroke-width="0.3">Labmundo, 2017</text>
</svg>
</body></html>
